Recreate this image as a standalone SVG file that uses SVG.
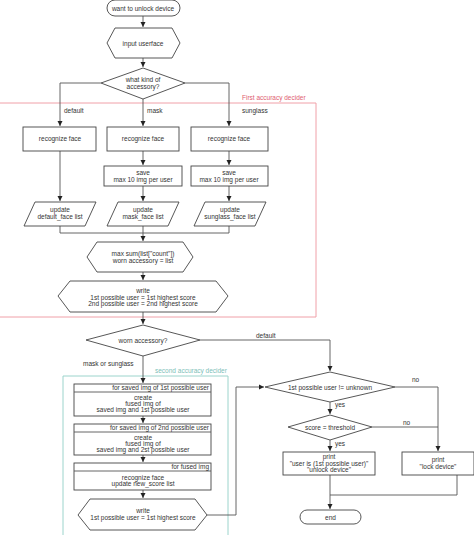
<svg xmlns="http://www.w3.org/2000/svg" width="474" height="535" viewBox="0 0 474 535">
<style>
text{font-family:"Liberation Sans",Arial,sans-serif;font-size:6.5px;fill:#333;}
.c{text-anchor:middle;}
.r{text-anchor:end;}
.s{fill:#fff;stroke:#444;stroke-width:0.9;}
.l{fill:none;stroke:#555;stroke-width:0.9;}
.red{fill:none;stroke:#f0a0a8;stroke-width:1;}
.redt{fill:#e06070;}
.teal{fill:none;stroke:#9cd4cc;stroke-width:1;}
.tealt{fill:#7cc0b8;}
</style>
<defs>
<marker id="a" markerWidth="6" markerHeight="6" refX="5" refY="3" orient="auto" markerUnits="userSpaceOnUse">
<path d="M0,0.5 L5,3 L0,5.5 z" fill="#222"/>
</marker>
</defs>
<rect width="474" height="535" fill="#fff"/>
<g id="groups">
<path class="red" d="M-1,103 H316 V317 H-1"/>
<text class="redt" x="242" y="100">First accuracy decider</text>
<path class="teal" d="M63,540 V376 H228 V540"/>
<text class="tealt" x="155" y="373">second accuracy decider</text>
</g>
<g id="connectors">
<path class="l" d="M143,16 V27" marker-end="url(#a)"/>
<path class="l" d="M143,58 V67" marker-end="url(#a)"/>
<path class="l" d="M101,83 H60 V126" marker-end="url(#a)"/>
<path class="l" d="M143,99 V126" marker-end="url(#a)"/>
<path class="l" d="M185,83 H229 V126" marker-end="url(#a)"/>
<path class="l" d="M60,151 V201" marker-end="url(#a)"/>
<path class="l" d="M143,151 V165" marker-end="url(#a)"/>
<path class="l" d="M229,151 V165" marker-end="url(#a)"/>
<path class="l" d="M143,186 V201" marker-end="url(#a)"/>
<path class="l" d="M229,186 V201" marker-end="url(#a)"/>
<path class="l" d="M60,226 V233 H229 V226"/>
<path class="l" d="M143,226 V241" marker-end="url(#a)"/>
<path class="l" d="M143,272 V280" marker-end="url(#a)"/>
<path class="l" d="M143,312 V324" marker-end="url(#a)"/>
<path class="l" d="M200,340 H330 V371" marker-end="url(#a)"/>
<path class="l" d="M143,356 V383" marker-end="url(#a)"/>
<path class="l" d="M143,416 V423" marker-end="url(#a)"/>
<path class="l" d="M143,455 V462" marker-end="url(#a)"/>
<path class="l" d="M143,490 V498" marker-end="url(#a)"/>
<path class="l" d="M207,515 H236 V387 H264" marker-end="url(#a)"/>
<path class="l" d="M395,387 H438 V451" marker-end="url(#a)"/>
<path class="l" d="M372,427 H438"/>
<path class="l" d="M330,402 V414" marker-end="url(#a)"/>
<path class="l" d="M330,440 V451" marker-end="url(#a)"/>
<path class="l" d="M330,475 V509" marker-end="url(#a)"/>
<path class="l" d="M457,475 V495 H330"/>
<text x="64" y="113">default</text>
<text x="147" y="113">mask</text>
<text x="242" y="113">sunglass</text>
<text x="256" y="338">default</text>
<text x="83" y="366">mask or sunglass</text>
<text x="412" y="382">no</text>
<text x="403" y="425">no</text>
<text x="335" y="407">yes</text>
<text x="335" y="446">yes</text>
</g>
<g id="start">
<rect class="s" x="107" y="0" width="73" height="16" rx="8"/>
<text class="c" x="143" y="10.5">want to unlock device</text>
</g>
<g id="input">
<path class="s" d="M115,28 H172 L180,43 L172,58 H115 L107,43 z"/>
<text class="c" x="143" y="45.5">input userface</text>
</g>
<g id="kind">
<path class="s" d="M143,68 L185,83 L143,99 L101,83 z"/>
<text class="c" x="143" y="82">what kind of</text>
<text class="c" x="143" y="89">accessory?</text>
</g>
<g id="rec1">
<rect class="s" x="23" y="127" width="73" height="24"/>
<text class="c" x="60" y="141">recognize face</text>
</g>
<g id="rec2">
<rect class="s" x="107" y="127" width="72" height="24"/>
<text class="c" x="143" y="141">recognize face</text>
</g>
<g id="rec3">
<rect class="s" x="191" y="127" width="77" height="24"/>
<text class="c" x="229" y="141">recognize face</text>
</g>
<g id="save2">
<rect class="s" x="104" y="166" width="78" height="20"/>
<text class="c" x="143" y="175">save</text>
<text class="c" x="143" y="182">max 10 img per user</text>
</g>
<g id="save3">
<rect class="s" x="191" y="166" width="77" height="20"/>
<text class="c" x="229" y="175">save</text>
<text class="c" x="229" y="182">max 10 img per user</text>
</g>
<g id="upd1">
<path class="s" d="M35,202 H96 L85,226 H24 z"/>
<text class="c" x="60" y="212">update</text>
<text class="c" x="60" y="219">default_face list</text>
</g>
<g id="upd2">
<path class="s" d="M118,202 H179 L168,226 H107 z"/>
<text class="c" x="143" y="212">update</text>
<text class="c" x="143" y="219">mask_face list</text>
</g>
<g id="upd3">
<path class="s" d="M205,202 H266 L255,226 H194 z"/>
<text class="c" x="230" y="212">update</text>
<text class="c" x="230" y="219">sunglass_face list</text>
</g>
<g id="maxsum">
<path class="s" d="M97,242 H183 L193,257 L183,272 H97 L87,257 z"/>
<text class="c" x="143" y="256">max sum(list["count"])</text>
<text class="c" x="143" y="263">worn accessory = list</text>
</g>
<g id="write1">
<path class="s" d="M70,281 H216 L228,296 L216,312 H70 L58,296 z"/>
<text class="c" x="143" y="293">write</text>
<text class="c" x="143" y="299.5">1st possible user = 1st highest score</text>
<text class="c" x="143" y="306">2nd possible user = 2nd highest score</text>
</g>
<g id="worn">
<path class="s" d="M143,325 L200,340 L143,356 L86,340 z"/>
<text class="c" x="143" y="342.5">worn accessory?</text>
</g>
<g id="fuse1">
<rect class="s" x="74" y="384" width="137" height="32"/>
<line class="l" x1="74" y1="392" x2="211" y2="392"/>
<text class="r" x="209" y="390">for saved img of 1st possible user</text>
<text class="c" x="143" y="400">create</text>
<text class="c" x="143" y="406">fused img of</text>
<text class="c" x="143" y="412">saved img and 1st possible user</text>
</g>
<g id="fuse2">
<rect class="s" x="74" y="424" width="137" height="31"/>
<line class="l" x1="74" y1="432" x2="211" y2="432"/>
<text class="r" x="209" y="430">for saved img of 2nd possible user</text>
<text class="c" x="143" y="439.5">create</text>
<text class="c" x="143" y="445.5">fused img of</text>
<text class="c" x="143" y="451.5">saved img and 2st possible user</text>
</g>
<g id="recfused">
<rect class="s" x="74" y="463" width="137" height="27"/>
<line class="l" x1="74" y1="471" x2="211" y2="471"/>
<text class="r" x="209" y="469">for fused img</text>
<text class="c" x="143" y="480">recognize face</text>
<text class="c" x="143" y="486">update new_score list</text>
</g>
<g id="write2">
<path class="s" d="M90,499 H195 L207,515 L195,530 H90 L78,515 z"/>
<text class="c" x="143" y="513">write</text>
<text class="c" x="143" y="519.5">1st possible user = 1st highest score</text>
</g>
<g id="unknown">
<path class="s" d="M330,372 L395,387 L330,402 L265,387 z"/>
<text class="c" x="330" y="389.5">1st possible user != unknown</text>
</g>
<g id="score">
<path class="s" d="M330,415 L372,427 L330,440 L288,427 z"/>
<text class="c" x="330" y="429.5">score = threshold</text>
</g>
<g id="unlock">
<rect class="s" x="283" y="452" width="92" height="23"/>
<text class="c" x="329" y="459">print</text>
<text class="c" x="329" y="465.5">"user is (1st possible user)"</text>
<text class="c" x="329" y="472">"unlock device"</text>
</g>
<g id="lock">
<rect class="s" x="402" y="452" width="72" height="23"/>
<text class="c" x="438" y="462">print</text>
<text class="c" x="438" y="468.5">"lock device"</text>
</g>
<g id="end">
<rect class="s" x="300" y="510" width="61" height="14" rx="7"/>
<text class="c" x="330.5" y="519.5">end</text>
</g>
</svg>
